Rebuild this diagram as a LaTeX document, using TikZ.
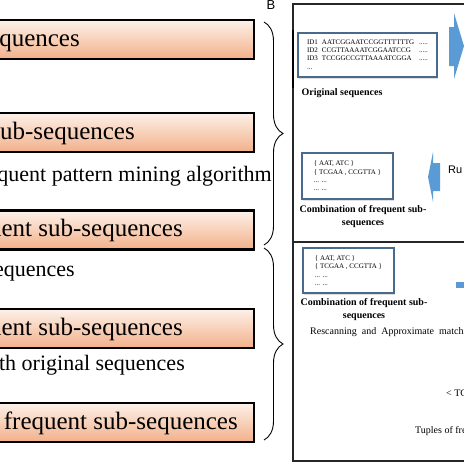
\documentclass[tikz,border=0pt]{standalone}
\usepackage{fontspec}
\setmainfont{Liberation Serif}
\newfontfamily\arialfont{Liberation Sans}
\usetikzlibrary{positioning,decorations.pathreplacing,shadows}
\definecolor{peachtop}{HTML}{FDF1E9}
\definecolor{peachbot}{HTML}{F2B089}
\definecolor{framblue}{HTML}{4A6A8C}
\definecolor{arrblue}{HTML}{5B9BD5}
\tikzstyle{stepbox}=[rectangle,draw=black,line width=2.2pt,top color=peachtop,bottom color=peachbot,minimum width=330pt,minimum height=39pt,anchor=east,inner sep=0pt]
\tikzstyle{steptext}=[font=\fontsize{25}{28}\selectfont,anchor=base east,inner sep=0pt]
\tikzstyle{algtext}=[font=\fontsize{22}{26}\selectfont,anchor=base east,inner sep=0pt]
\tikzstyle{brc}=[decorate,decoration={brace,amplitude=19pt},line width=0.9pt]
\tikzstyle{seqbox}=[rectangle,draw=framblue,line width=1.3pt,fill=white,drop shadow={opacity=0.25,shadow xshift=1pt,shadow yshift=-2pt},align=left,font=\fontsize{7}{8.3}\selectfont,inner sep=0pt]
\tikzstyle{boldlbl}=[font=\bfseries\fontsize{10}{13}\selectfont,align=center,inner sep=0pt]
\tikzstyle{plainlbl}=[font=\fontsize{10}{12}\selectfont,anchor=base west,inner sep=0pt]
\tikzstyle{panel}=[draw=black!85,line width=1.6pt]
\tikzstyle{bluearr}=[fill=arrblue]

\begin{document}
\begin{tikzpicture}[x=1pt,y=-1pt]
\useasboundingbox (0,0) rectangle (464,464);
% left column of steps
\node[stepbox] (s1) at (255,39.5) {};
\node[stepbox] (s2) at (255,132.5) {};
\node[stepbox] (s3) at (255,230) {};
\node[stepbox] (s4) at (255,328.5) {};
\node[stepbox] (s5) at (255,422.5) {};
\node[steptext] (t1) at (80,46) {sequences};
\node[steptext] (t2) at (135,139) {sub-sequences};
\node[steptext] (t3) at (183,236.5) {frequent sub-sequences};
\node[steptext] (t4) at (183,335) {frequent sub-sequences};
\node[steptext] (t5) at (238,429) {frequent sub-sequences};
\node[algtext] (a1) at (272,181) {Frequent pattern mining algorithm};
\node[algtext] (a2) at (75,276) {sequences};
\node[algtext] (a3) at (185,370) {with original sequences};
% braces
\draw[brc] (264,22) -- (264,245);
\draw[brc] (264,248) -- (264,440);
\node[font=\arialfont\fontsize{13}{15}\selectfont,inner sep=0pt] (lblB) at (271,5) {B};
% right panel
\draw[panel] (293,4) rectangle (480,242);
\draw[panel] (293,242) -- (293,461);
\draw[draw=black!85,line width=2.6pt] (292,461) -- (480,461);
\draw[line width=2.6pt] (293,30) -- (293,88);
% top part
\node[seqbox,minimum width=139pt,minimum height=44pt] (orig) at (367.5,55) {%
\begin{tabular}{@{}l@{\hspace{4pt}}l@{\hspace{5pt}}l@{}}
ID1 & AATCGGAATCCGGTTTTTTG & .....\\
ID2 & CCGTTAAAATCGGAATCCG & .....\\
ID3 & TCCGGCCGTTAAAATCGGA & .....\\
... & & \\
\end{tabular}};
\node[boldlbl,below right=11pt and 4pt of orig.south west] (origlbl) {Original sequences};
\node[seqbox,minimum width=91pt,minimum height=46pt] (cmbA) at (347.5,176) {\{ AAT, ATC \}\\\{ TCGAA , CCGTTA \}\\... ...\\... ...};
\node[boldlbl,below=6pt of cmbA,xshift=15.5pt] (cmbAlbl) {Combination of frequent sub-\\sequences};
\fill[bluearr] (449,27) -- (454,27) -- (454,13) -- (464,46) -- (454,79) -- (454,66) -- (449,66) -- cycle;
\fill[bluearr] (440,163) -- (433,163) -- (433,152) -- (428,177) -- (433,202) -- (433,191) -- (440,191) -- cycle;
\node[font=\arialfont\fontsize{11}{13}\selectfont,anchor=base west,inner sep=0pt] (run) at (448,173) {Ru};
% bottom part
\node[seqbox,minimum width=91pt,minimum height=45pt] (cmbB) at (348.5,270.5) {\{ AAT, ATC \}\\\{ TCGAA , CCGTTA \}\\... ...\\... ...};
\node[boldlbl,below=5pt of cmbB,xshift=15.5pt] (cmbBlbl) {Combination of frequent sub-\\sequences};
\fill[bluearr] (456,282) rectangle (466,288);
\node[plainlbl] (rescan) at (310,334) {Rescanning \ and \ Approximate \ matching};
\node[plainlbl] (tuple) at (446,396) {< TCGAA};
\node[plainlbl] (tuples) at (415,433) {Tuples of frequent sub-sequences};
\end{tikzpicture}
\end{document}
